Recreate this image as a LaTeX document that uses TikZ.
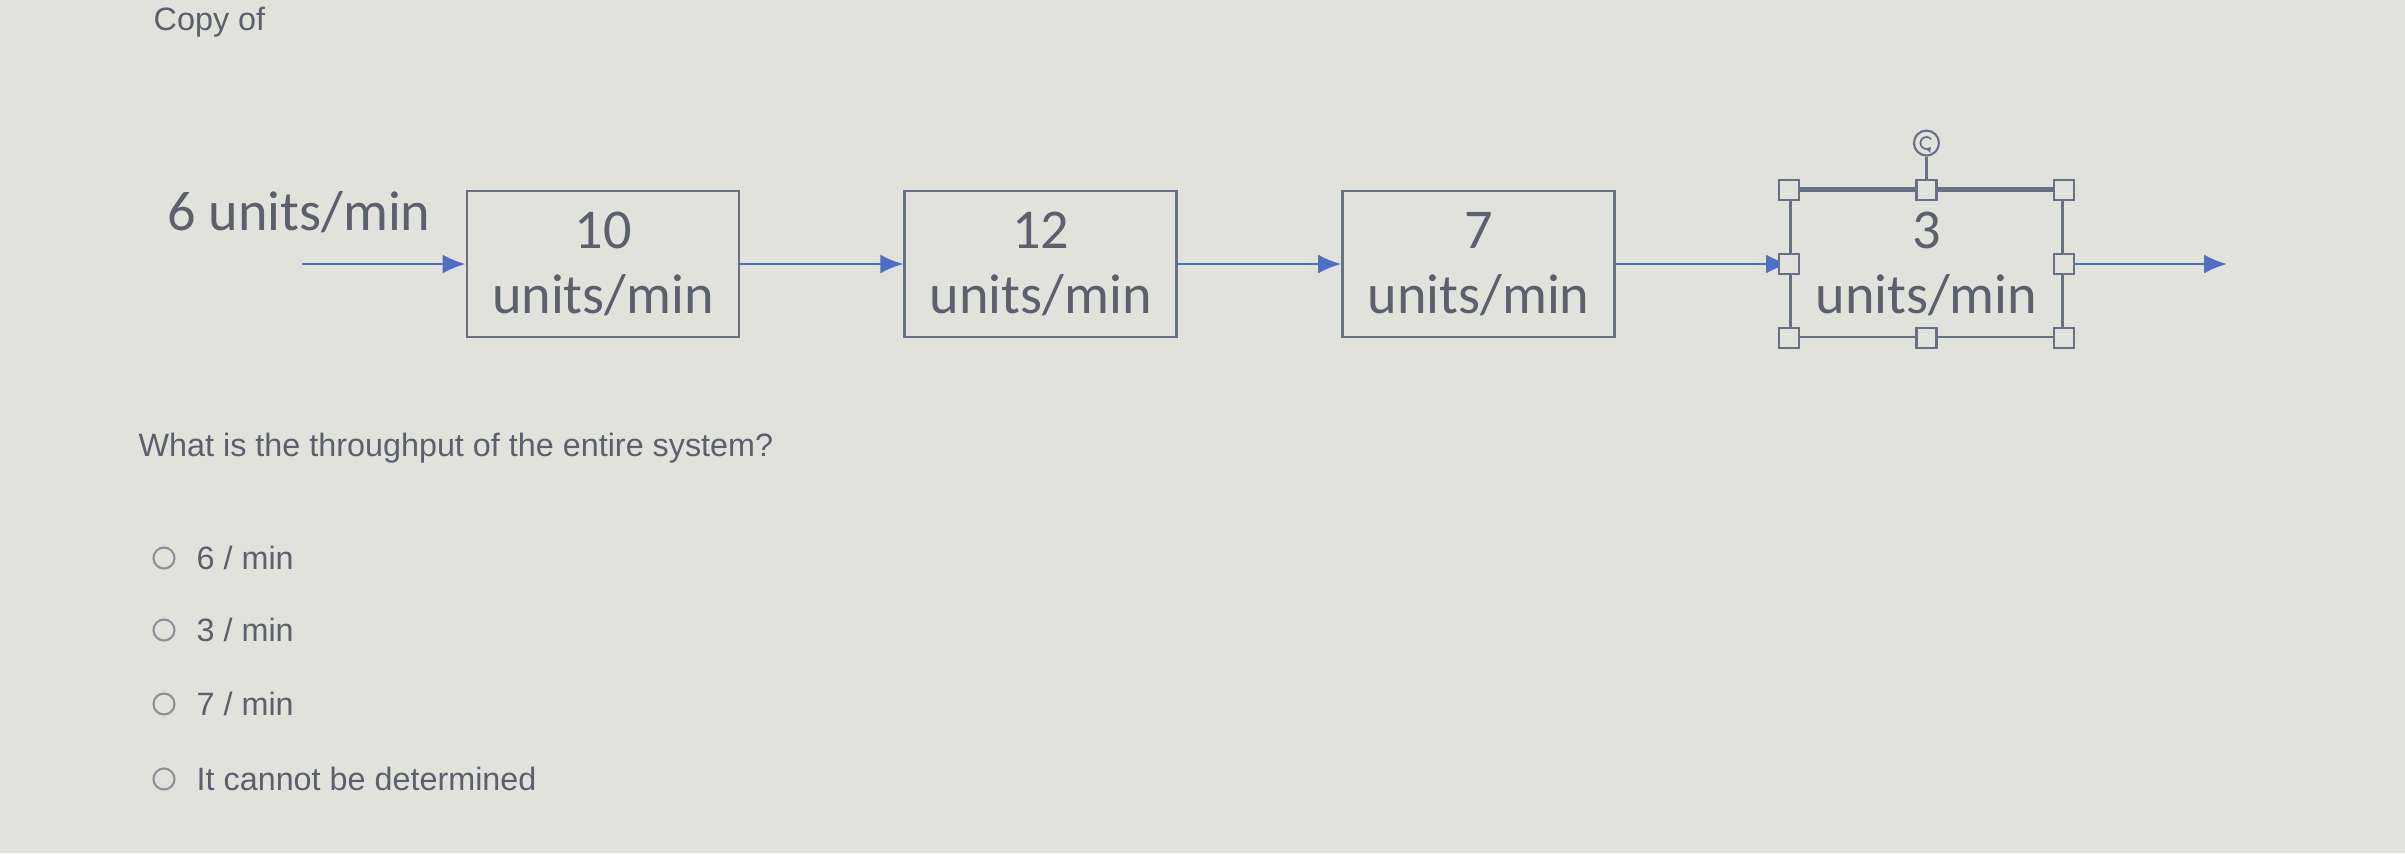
\documentclass[tikz,border=0pt]{standalone}
\usepackage{fontspec}
\setmainfont{Liberation Sans}
\newfontfamily\calibri{Carlito}
\usetikzlibrary{positioning,arrows.meta}
\definecolor{screen}{RGB}{226,226,221}
\definecolor{inkgray}{RGB}{92,96,108}
\definecolor{flowblue}{RGB}{78,112,196}
\definecolor{boxedge}{RGB}{104,112,134}

\begin{document}
\begin{tikzpicture}[
        rate/.style={draw=boxedge, line width=0.8pt, minimum width=2.72cm, minimum height=1.46cm,
            align=center, text=inkgray, inner sep=0pt, font=\calibri\fontsize{16}{18.5}\selectfont},
        flow/.style={flowblue, line width=0.7pt, -{Latex[length=2.3mm,width=1.9mm]}},
        handle/.style={draw=boxedge, fill=screen, line width=0.6pt, minimum size=0.2cm, inner sep=0pt},
        radio/.style={circle, draw=inkgray!70, line width=0.6pt, minimum size=0.21cm, inner sep=0pt},
        opt/.style={anchor=west, text=inkgray, inner sep=0pt, font=\fontsize{9.2}{11}\selectfont},
        node distance=1.63cm
    ]
            \fill[screen] (0,0) rectangle (24.05,8.53);
            \useasboundingbox (0,0) rectangle (24.05,8.53);
            \node[opt] (title) at (1.53,8.31) {Copy of};
            % the line of stations
            \node[rate] (b1) at (6.03,5.89) {10\\units/min};
            \node[rate, right=of b1] (b2) {12\\units/min};
            \node[rate, right=of b2] (b3) {7\\units/min};
            \node[rate, right=1.73cm of b3] (b4) {3\\units/min};
            \node[text=inkgray, inner sep=0pt, font=\calibri\fontsize{16}{18.5}\selectfont] (inrate) at (2.99,6.41) {6 units/min};
            \coordinate (in) at (3.02,5.89);
            \coordinate (out) at (22.27,5.89);
            \draw[flow] (in) -- (b1);
            \draw[flow] (b1) -- (b2);
            \draw[flow] (b2) -- (b3);
            \draw[flow] (b3) -- (b4);
            \draw[flow] (b4) -- (out);
            % selection handles on the last box
            \draw[boxedge, line width=1.6pt] (b4.north west) -- (b4.north east);
            \node[circle, draw=boxedge, fill=screen, line width=0.6pt, minimum size=0.25cm, inner sep=0pt,
                above=0.33cm of b4.north] (rot) {};
            \draw[boxedge, line width=0.6pt] (b4.north) -- (rot);
            \draw[boxedge, line width=0.5pt, -{Latex[length=0.5mm,width=0.7mm]}] (rot.center) ++(40:0.06) arc[start angle=40, end angle=320, radius=0.06];
            \foreach \a in {north west,north,north east,east,south east,south,south west,west}
                \node[handle] (h-\a) at (b4.\a) {};
            % the question
            \node[opt] (q) at (1.38,4.05) {What is the throughput of the entire system?};
            \foreach \y/\t [count=\i] in {2.95/{6 / min}, 2.23/{3 / min}, 1.49/{7 / min}, 0.74/{It cannot be determined}} {
                \node[radio] (r\i) at (1.64,\y) {};
                \node[opt] (a\i) at (1.96,\y) {\t};
            }
        \end{tikzpicture}
\end{document}
